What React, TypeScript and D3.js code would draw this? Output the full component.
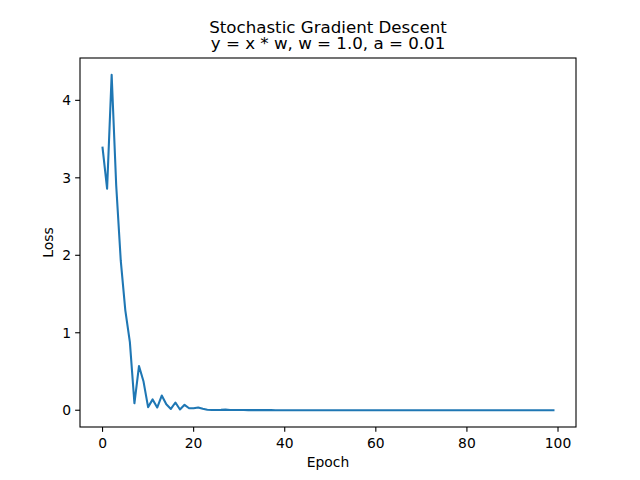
import React from "react";
import * as d3 from "d3";

const epochs: number[] = Array.from({ length: 100 }, (_, i) => i);
const lossValues: number[] = [
  3.39, 2.86, 4.33, 2.9, 1.93, 1.29, 0.88, 0.09, 0.57, 0.37,
  0.04, 0.14, 0.035, 0.19, 0.077, 0.017, 0.1, 0.01, 0.07, 0.025,
  0.025, 0.035, 0.018, 0.006, 0.003, 0.004, 0.005, 0.008, 0.004, 0.003,
  0.002, 0.002, 0.0015, 0.001, 0.002, 0.0015, 0.001, 0.001, 0.0008, 0.0008,
  0.0006, 0.0006, 0.0005, 0.0005, 0.0004, 0.0004, 0.0003, 0.0003, 0.0003, 0.0002,
  0.0002, 0.0002, 0.0002, 0.0001, 0.0001, 0.0001, 0.0001, 0.0001, 0.0001, 0.0001,
  0.0001, 0.0001, 0.0001, 0.0001, 0.0001, 0.0001, 0.0001, 0.0001, 0.0001, 0.0001,
  0.0001, 0.0001, 0.0001, 0.0001, 0.0001, 0.0001, 0.0001, 0.0001, 0.0001, 0.0001,
  0.0001, 0.0001, 0.0001, 0.0001, 0.0001, 0.0001, 0.0001, 0.0001, 0.0001, 0.0001,
  0.0001, 0.0001, 0.0001, 0.0001, 0.0001, 0.0001, 0.0001, 0.0001, 0.0001, 0.0001,
];
const xTicks: number[] = [0, 20, 40, 60, 80, 100];
const yTicks: number[] = [0, 1, 2, 3, 4];
const titleLines: string[] = ["Stochastic Gradient Descent", "y = x * w, w = 1.0, a = 0.01"];
const xLabel = "Epoch";
const yLabel = "Loss";

export default function App() {
  const W = 640, H = 480;
  const left = 80, right = 576, top = 58, bottom = 427;
  const font = "DejaVu Sans, sans-serif";
  const xMin = d3.min(epochs)!, xMax = d3.max(epochs)!;
  const yMin = d3.min(lossValues)!, yMax = d3.max(lossValues)!;
  const xm = (xMax - xMin) * 0.05, ym = (yMax - yMin) * 0.05;
  const x = d3.scaleLinear().domain([xMin - xm, xMax + xm]).range([left, right]);
  const y = d3.scaleLinear().domain([yMin - ym, yMax + ym]).range([bottom, top]);
  const line = d3.line<number>().x((_, i) => x(epochs[i])).y((d) => y(d));
  const cx = (left + right) / 2;
  return (
    <svg width={W} height={H} style={{ position: "absolute", left: 0, top: 0, background: "#fff" }}>
      <rect x={0} y={0} width={W} height={H} fill="#fff" />
      <text x={cx} y={32.5} textAnchor="middle" fontFamily={font} fontSize={16.67} fill="#000">{titleLines[0]}</text>
      <text x={cx} y={49} textAnchor="middle" fontFamily={font} fontSize={16.67} fill="#000">{titleLines[1]}</text>
      <path d={line(lossValues) || ""} fill="none" stroke="#1f77b4" strokeWidth={2.08} strokeLinejoin="round" strokeLinecap="square" />
      <rect x={left} y={top} width={right - left} height={bottom - top} fill="none" stroke="#000" strokeWidth={1.1} />
      {xTicks.map((t) => (
        <g key={"x" + t}>
          <line x1={x(t)} x2={x(t)} y1={bottom} y2={bottom + 4.86} stroke="#000" strokeWidth={1.1} />
          <text x={x(t)} y={447.7} textAnchor="middle" fontFamily={font} fontSize={13.89} fill="#000">{t}</text>
        </g>
      ))}
      {yTicks.map((t) => (
        <g key={"y" + t}>
          <line x1={left - 4.86} x2={left} y1={y(t)} y2={y(t)} stroke="#000" strokeWidth={1.1} />
          <text x={71} y={y(t) + 5} textAnchor="end" fontFamily={font} fontSize={13.89} fill="#000">{t}</text>
        </g>
      ))}
      <text x={cx} y={467} textAnchor="middle" fontFamily={font} fontSize={13.89} fill="#000">{xLabel}</text>
      <text transform={`translate(53,${(top + bottom) / 2}) rotate(-90)`} textAnchor="middle" fontFamily={font} fontSize={13.89} fill="#000">{yLabel}</text>
    </svg>
  );
}
